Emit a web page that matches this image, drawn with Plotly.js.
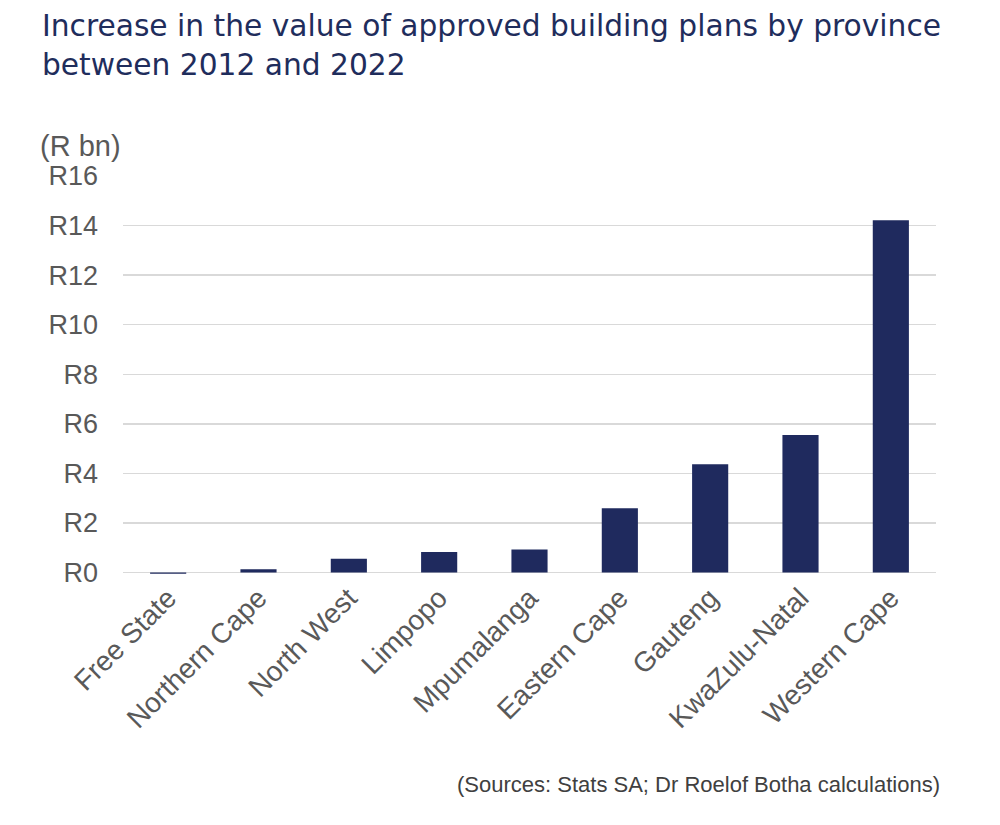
<!DOCTYPE html>
<html>
<head>
<meta charset="utf-8">
<script src="https://cdn.plot.ly/plotly-3.0.1.min.js"></script>
<style>html,body{margin:0;padding:0;background:#fff;}#chart{width:1000px;height:825px;}</style>
</head>
<body>
<div id="chart"></div>
<script>
const provinces = ["Free State", "Northern Cape", "North West", "Limpopo", "Mpumalanga", "Eastern Cape", "Gauteng", "KwaZulu-Natal", "Western Cape"];
const increaseRbn = [-0.05, 0.13, 0.56, 0.83, 0.93, 2.59, 4.37, 5.55, 14.21];
const yTickValues = [0, 2, 4, 6, 8, 10, 12, 14, 16];
const yTickLabels = ["R0", "R2", "R4", "R6", "R8", "R10", "R12", "R14", "R16"];

const trace = {
  type: "bar",
  x: provinces,
  y: increaseRbn,
  marker: {color: "#1f2a5e"},
  hoverinfo: "x+y"
};

const layout = {
  width: 1000,
  height: 825,
  paper_bgcolor: "#ffffff",
  plot_bgcolor: "#ffffff",
  margin: {l: 123, r: 64, t: 176, b: 250},
  bargap: 0.6,
  showlegend: false,
  title: {
    text: "Increase in the value of approved building plans by province<br>between 2012 and 2022",
    xref: "container", yref: "container",
    x: 0.042, xanchor: "left",
    y: 0.956, yanchor: "top",
    font: {family: "'DejaVu Sans', sans-serif", size: 29.7, color: "#1f2d5c"}
  },
  xaxis: {
    type: "category",
    tickangle: -45,
    showgrid: false,
    showline: false,
    ticks: "",
    tickfont: {family: "'Liberation Sans', Arial, sans-serif", size: 28, color: "#595959"}
  },
  yaxis: {
    range: [-0.1, 16],
    tickvals: yTickValues,
    ticktext: yTickLabels,
    showgrid: true,
    gridcolor: "#d9d9d9",
    gridwidth: 1.5,
    zeroline: false,
    showline: false,
    ticks: "",
    ticklabelstandoff: 24,
    tickfont: {family: "'Liberation Sans', Arial, sans-serif", size: 27, color: "#595959"}
  },
  annotations: [
    {
      text: "(R bn)",
      xref: "paper", yref: "paper",
      x: 0, xanchor: "right",
      y: 1.075, yanchor: "middle",
      showarrow: false,
      font: {family: "'Liberation Sans', Arial, sans-serif", size: 29, color: "#595959"}
    },
    {
      text: "(Sources: Stats SA; Dr Roelof Botha calculations)",
      xref: "paper", yref: "paper",
      x: 1.0074, xanchor: "right",
      y: -0.526, yanchor: "middle",
      showarrow: false,
      font: {family: "'Liberation Sans', Arial, sans-serif", size: 22, color: "#404040"}
    }
  ]
};

Plotly.newPlot("chart", [trace], layout, {displayModeBar: false, staticPlot: true});
</script>
</body>
</html>
